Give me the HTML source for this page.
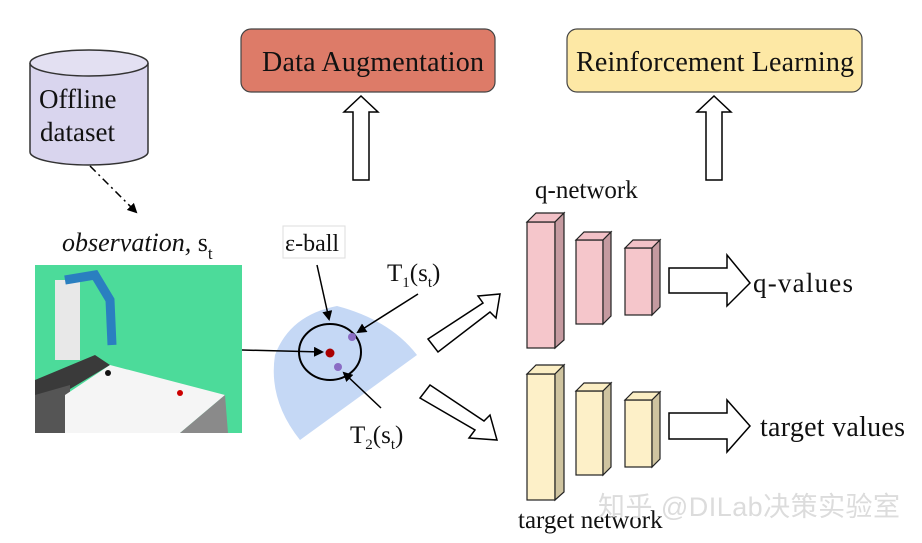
<!DOCTYPE html><html><head><style>body{margin:0;background:#fff}svg{display:block}text{font-family:"Liberation Serif",serif;fill:#111}</style></head><body>
<svg width="922" height="543" viewBox="0 0 922 543" xmlns="http://www.w3.org/2000/svg">
<defs><marker id="ah" markerWidth="10" markerHeight="10" refX="8" refY="5" orient="auto" markerUnits="userSpaceOnUse"><path d="M0,0 L10,5 L0,10 z" fill="#000"/></marker></defs>
<path d="M30,63 L30,152 A59,13 0 0 0 148,152 L148,63" fill="#d9d5ee" stroke="#333" stroke-width="1.5"/>
<ellipse cx="89" cy="63" rx="59" ry="13" fill="#e3e0f2" stroke="#333" stroke-width="1.5"/>
<text x="39" y="108" font-size="27">Offline</text>
<text x="40" y="141" font-size="27">dataset</text>
<line x1="90" y1="166" x2="136" y2="212" stroke="#000" stroke-width="1.5" stroke-dasharray="8,4,2,4" marker-end="url(#ah)"/>
<rect x="241" y="29" width="254" height="63" rx="10" fill="#dd7b68" stroke="#444" stroke-width="1.2"/>
<text x="262" y="71" font-size="28" textLength="222">Data Augmentation</text>
<rect x="567" y="29" width="295" height="63" rx="10" fill="#fde8a5" stroke="#444" stroke-width="1.2"/>
<text x="576" y="71" font-size="28" textLength="278">Reinforcement Learning</text>
<path d="M353,180 L353,112 L344,112 L361,96 L378,112 L369,112 L369,180 z" fill="#fff" stroke="#000" stroke-width="1.5"/>
<path d="M706,180 L706,112 L697,112 L714,96 L731,112 L722,112 L722,180 z" fill="#fff" stroke="#000" stroke-width="1.5"/>
<text x="62" y="251" font-size="26"><tspan font-style="italic">observation,</tspan> s<tspan font-size="17" dy="8">t</tspan></text>
<rect x="35" y="265" width="207" height="168" fill="#4cdb9a"/>
<polygon points="35,380 95,355 110,365 35,410" fill="#3a3a3a"/>
<polygon points="35,395 70,385 70,433 35,433" fill="#555"/>
<polygon points="65,395 110,365 225,395 180,433 65,433" fill="#f5f5f5"/>
<polygon points="180,433 225,395 228,433" fill="#8a8a8a"/>
<rect x="55" y="280" width="25" height="80" fill="#e8e8e8"/>
<path d="M65,280 L95,275 L110,300 L112,345" stroke="#2a7fc0" stroke-width="9" fill="none"/>
<circle cx="108" cy="373" r="3" fill="#111"/>
<circle cx="180" cy="393" r="3" fill="#c00"/>
<path d="M337,306 Q390,320 417,355 L300,440 Q268,400 275,355 Q290,315 337,306 z" fill="#c5d8f5"/>
<line x1="242" y1="350" x2="322" y2="352" stroke="#000" stroke-width="1.5" marker-end="url(#ah)"/>
<ellipse cx="330" cy="352" rx="31" ry="28" fill="none" stroke="#000" stroke-width="2"/>
<circle cx="330" cy="353" r="4.5" fill="#a00"/>
<circle cx="352" cy="337" r="4" fill="#8a6cc4"/>
<circle cx="338" cy="367" r="4" fill="#8a6cc4"/>
<rect x="283" y="226" width="62" height="32" fill="#fff" stroke="#ddd"/>
<text x="285" y="251" font-size="24">ε-ball</text>
<line x1="317" y1="265" x2="329" y2="319" stroke="#000" stroke-width="1.5" marker-end="url(#ah)"/>
<text x="387" y="281" font-size="25">T<tspan font-size="15" dy="6">1</tspan><tspan dy="-6">(s</tspan><tspan font-size="15" dy="6">t</tspan><tspan dy="-6">)</tspan></text>
<line x1="418" y1="294" x2="358" y2="332" stroke="#000" stroke-width="1.5" marker-end="url(#ah)"/>
<text x="350" y="443" font-size="25">T<tspan font-size="15" dy="6">2</tspan><tspan dy="-6">(s</tspan><tspan font-size="15" dy="6">t</tspan><tspan dy="-6">)</tspan></text>
<line x1="381" y1="408" x2="344" y2="373" stroke="#000" stroke-width="1.5" marker-end="url(#ah)"/>
<path d="M428,339 L483,303 L478,296 L500,294 L496,318 L490,312 L438,352 z" fill="#fff" stroke="#000" stroke-width="1.5"/>
<path d="M420,398 L475,430 L469,438 L497,440 L490,415 L484,421 L430,385 z" fill="#fff" stroke="#000" stroke-width="1.5"/>
<text x="535" y="198" font-size="25">q-network</text>
<g stroke="#222" stroke-width="1.2">
<rect x="527" y="222" width="28" height="126" fill="#f5c6cb"/><polygon points="527,222 536,213 564,213 555,222" fill="#f2c1c7"/><polygon points="555,222 564,213 564,340 555,348" fill="#c59aa0"/>
<rect x="576" y="240" width="27" height="84" fill="#f5c6cb"/><polygon points="576,240 584,232 611,232 603,240" fill="#f2c1c7"/><polygon points="603,240 611,232 611,316 603,324" fill="#c59aa0"/>
<rect x="625" y="248" width="27" height="67" fill="#f5c6cb"/><polygon points="625,248 633,240 660,240 652,248" fill="#f2c1c7"/><polygon points="652,248 660,240 660,307 652,315" fill="#c59aa0"/>
<rect x="527" y="374" width="28" height="126" fill="#fdf0c8"/><polygon points="527,374 536,365 564,365 555,374" fill="#fbeec4"/><polygon points="555,374 564,365 564,492 555,500" fill="#cfc4a0"/>
<rect x="576" y="391" width="27" height="84" fill="#fdf0c8"/><polygon points="576,391 584,383 611,383 603,391" fill="#fbeec4"/><polygon points="603,391 611,383 611,467 603,475" fill="#cfc4a0"/>
<rect x="625" y="400" width="27" height="67" fill="#fdf0c8"/><polygon points="625,400 633,392 660,392 652,400" fill="#fbeec4"/><polygon points="652,400 660,392 660,459 652,467" fill="#cfc4a0"/>
</g>
<path d="M669,268 L727,268 L727,255 L750,283 L727,306 L727,293 L669,293 z" fill="#fff" stroke="#000" stroke-width="1.5"/>
<path d="M669,413 L727,413 L727,400 L750,426 L727,452 L727,439 L669,439 z" fill="#fff" stroke="#000" stroke-width="1.5"/>
<text x="753" y="292" font-size="27" textLength="100">q-values</text>
<text x="760" y="436" font-size="28" textLength="145">target values</text>
<text x="518" y="528" font-size="25">target network</text>
<text x="598" y="516" font-size="27" textLength="302" style="font-family:'Liberation Sans','Noto Sans CJK SC',sans-serif;fill:#dcdcdc">知乎 @DILab决策实验室</text>
</svg></body></html>
